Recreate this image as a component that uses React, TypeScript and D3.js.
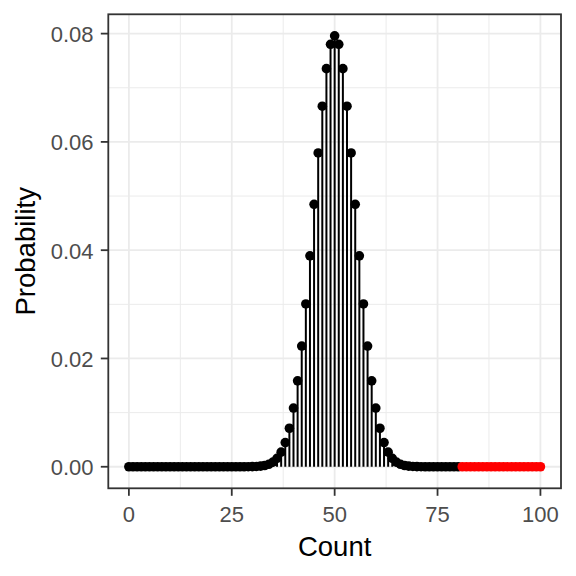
import React from "react";
import * as d3 from "d3";

// Binomial-looking probabilities for counts 0..100
const lowerTail: number[] = [
  0, 0, 0, 0, 0, 0, 0, 0, 0, 0,
  0, 0, 0, 0, 0, 0, 0, 0, 0, 0,
  0, 0, 0, 0, 0, 0.0000002, 0.0000006, 0.0000015, 0.0000039, 0.0000098,
  0.0000232, 0.0000523, 0.00011282, 0.00023247, 0.0004581, 0.00086385, 0.0015597, 0.0026979, 0.0044729, 0.0071108,
  0.0108439, 0.0158691, 0.0222923, 0.0300686, 0.0389525, 0.0484743, 0.0579584, 0.0665905, 0.073527, 0.0780286,
];
const peak = 0.0795892;
const probabilities: number[] = [...lowerTail, peak, ...lowerTail.slice().reverse()];
const counts: number[] = probabilities.map((_, i) => i);
const redThreshold = 81;

const xTicks = [0, 25, 50, 75, 100];
const xMinor = [12.5, 37.5, 62.5, 87.5];
const yTicks = [0, 0.02, 0.04, 0.06, 0.08];
const yMinor = [0.01, 0.03, 0.05, 0.07];

export default function App() {
  const W = 576, H = 576;
  const left = 108.3, right = 561, top = 14.3, bottom = 488.3;
  const ymax = d3.max(probabilities)!;
  const ypad = ymax * 0.05;
  const x = d3.scaleLinear().domain([-5, 105]).range([left, right]);
  const y = d3.scaleLinear().domain([-ypad, ymax + ypad]).range([bottom, top]);
  const grid = "#EBEBEB";
  const dark = "#333333";
  const font = "Arial, 'Liberation Sans', sans-serif";
  const yFmt = d3.format(".2f");

  return (
    <svg width={W} height={H} style={{ position: "absolute", left: 0, top: 0 }} fontFamily={font}>
      <rect x={0} y={0} width={W} height={H} fill="white" />
      {xMinor.map((t) => (
        <line key={"xm" + t} x1={x(t)} x2={x(t)} y1={top} y2={bottom} stroke={grid} strokeWidth={1} />
      ))}
      {yMinor.map((t) => (
        <line key={"ym" + t} x1={left} x2={right} y1={y(t)} y2={y(t)} stroke={grid} strokeWidth={1} />
      ))}
      {xTicks.map((t) => (
        <line key={"xg" + t} x1={x(t)} x2={x(t)} y1={top} y2={bottom} stroke={grid} strokeWidth={1.8} />
      ))}
      {yTicks.map((t) => (
        <line key={"yg" + t} x1={left} x2={right} y1={y(t)} y2={y(t)} stroke={grid} strokeWidth={1.8} />
      ))}
      {counts.map((c, i) => (
        <line key={"s" + c} x1={x(c)} x2={x(c)} y1={y(0)} y2={y(probabilities[i])} stroke="black" strokeWidth={2} />
      ))}
      {counts.map((c, i) => (
        <circle key={"p" + c} cx={x(c)} cy={y(probabilities[i])} r={4.8} fill={c >= redThreshold ? "#FF0000" : "black"} />
      ))}
      <rect x={left} y={top} width={right - left} height={bottom - top} fill="none" stroke={dark} strokeWidth={1.8} />
      {yTicks.map((t) => (
        <g key={"yt" + t}>
          <line x1={left - 7.5} x2={left} y1={y(t)} y2={y(t)} stroke={dark} strokeWidth={1.8} />
          <text x={93.5} y={y(t) + 8.5} textAnchor="end" fontSize={22} fill="#4D4D4D">{yFmt(t)}</text>
        </g>
      ))}
      {xTicks.map((t) => (
        <g key={"xt" + t}>
          <line x1={x(t)} x2={x(t)} y1={bottom} y2={bottom + 7.5} stroke={dark} strokeWidth={1.8} />
          <text x={x(t)} y={521.7} textAnchor="middle" fontSize={22} fill="#4D4D4D">{t}</text>
        </g>
      ))}
      <text x={(left + right) / 2} y={556} textAnchor="middle" fontSize={27.5} fill="black">Count</text>
      <text transform={`translate(34.7, ${(top + bottom) / 2}) rotate(-90)`} textAnchor="middle" fontSize={27.5} fill="black">Probability</text>
    </svg>
  );
}
